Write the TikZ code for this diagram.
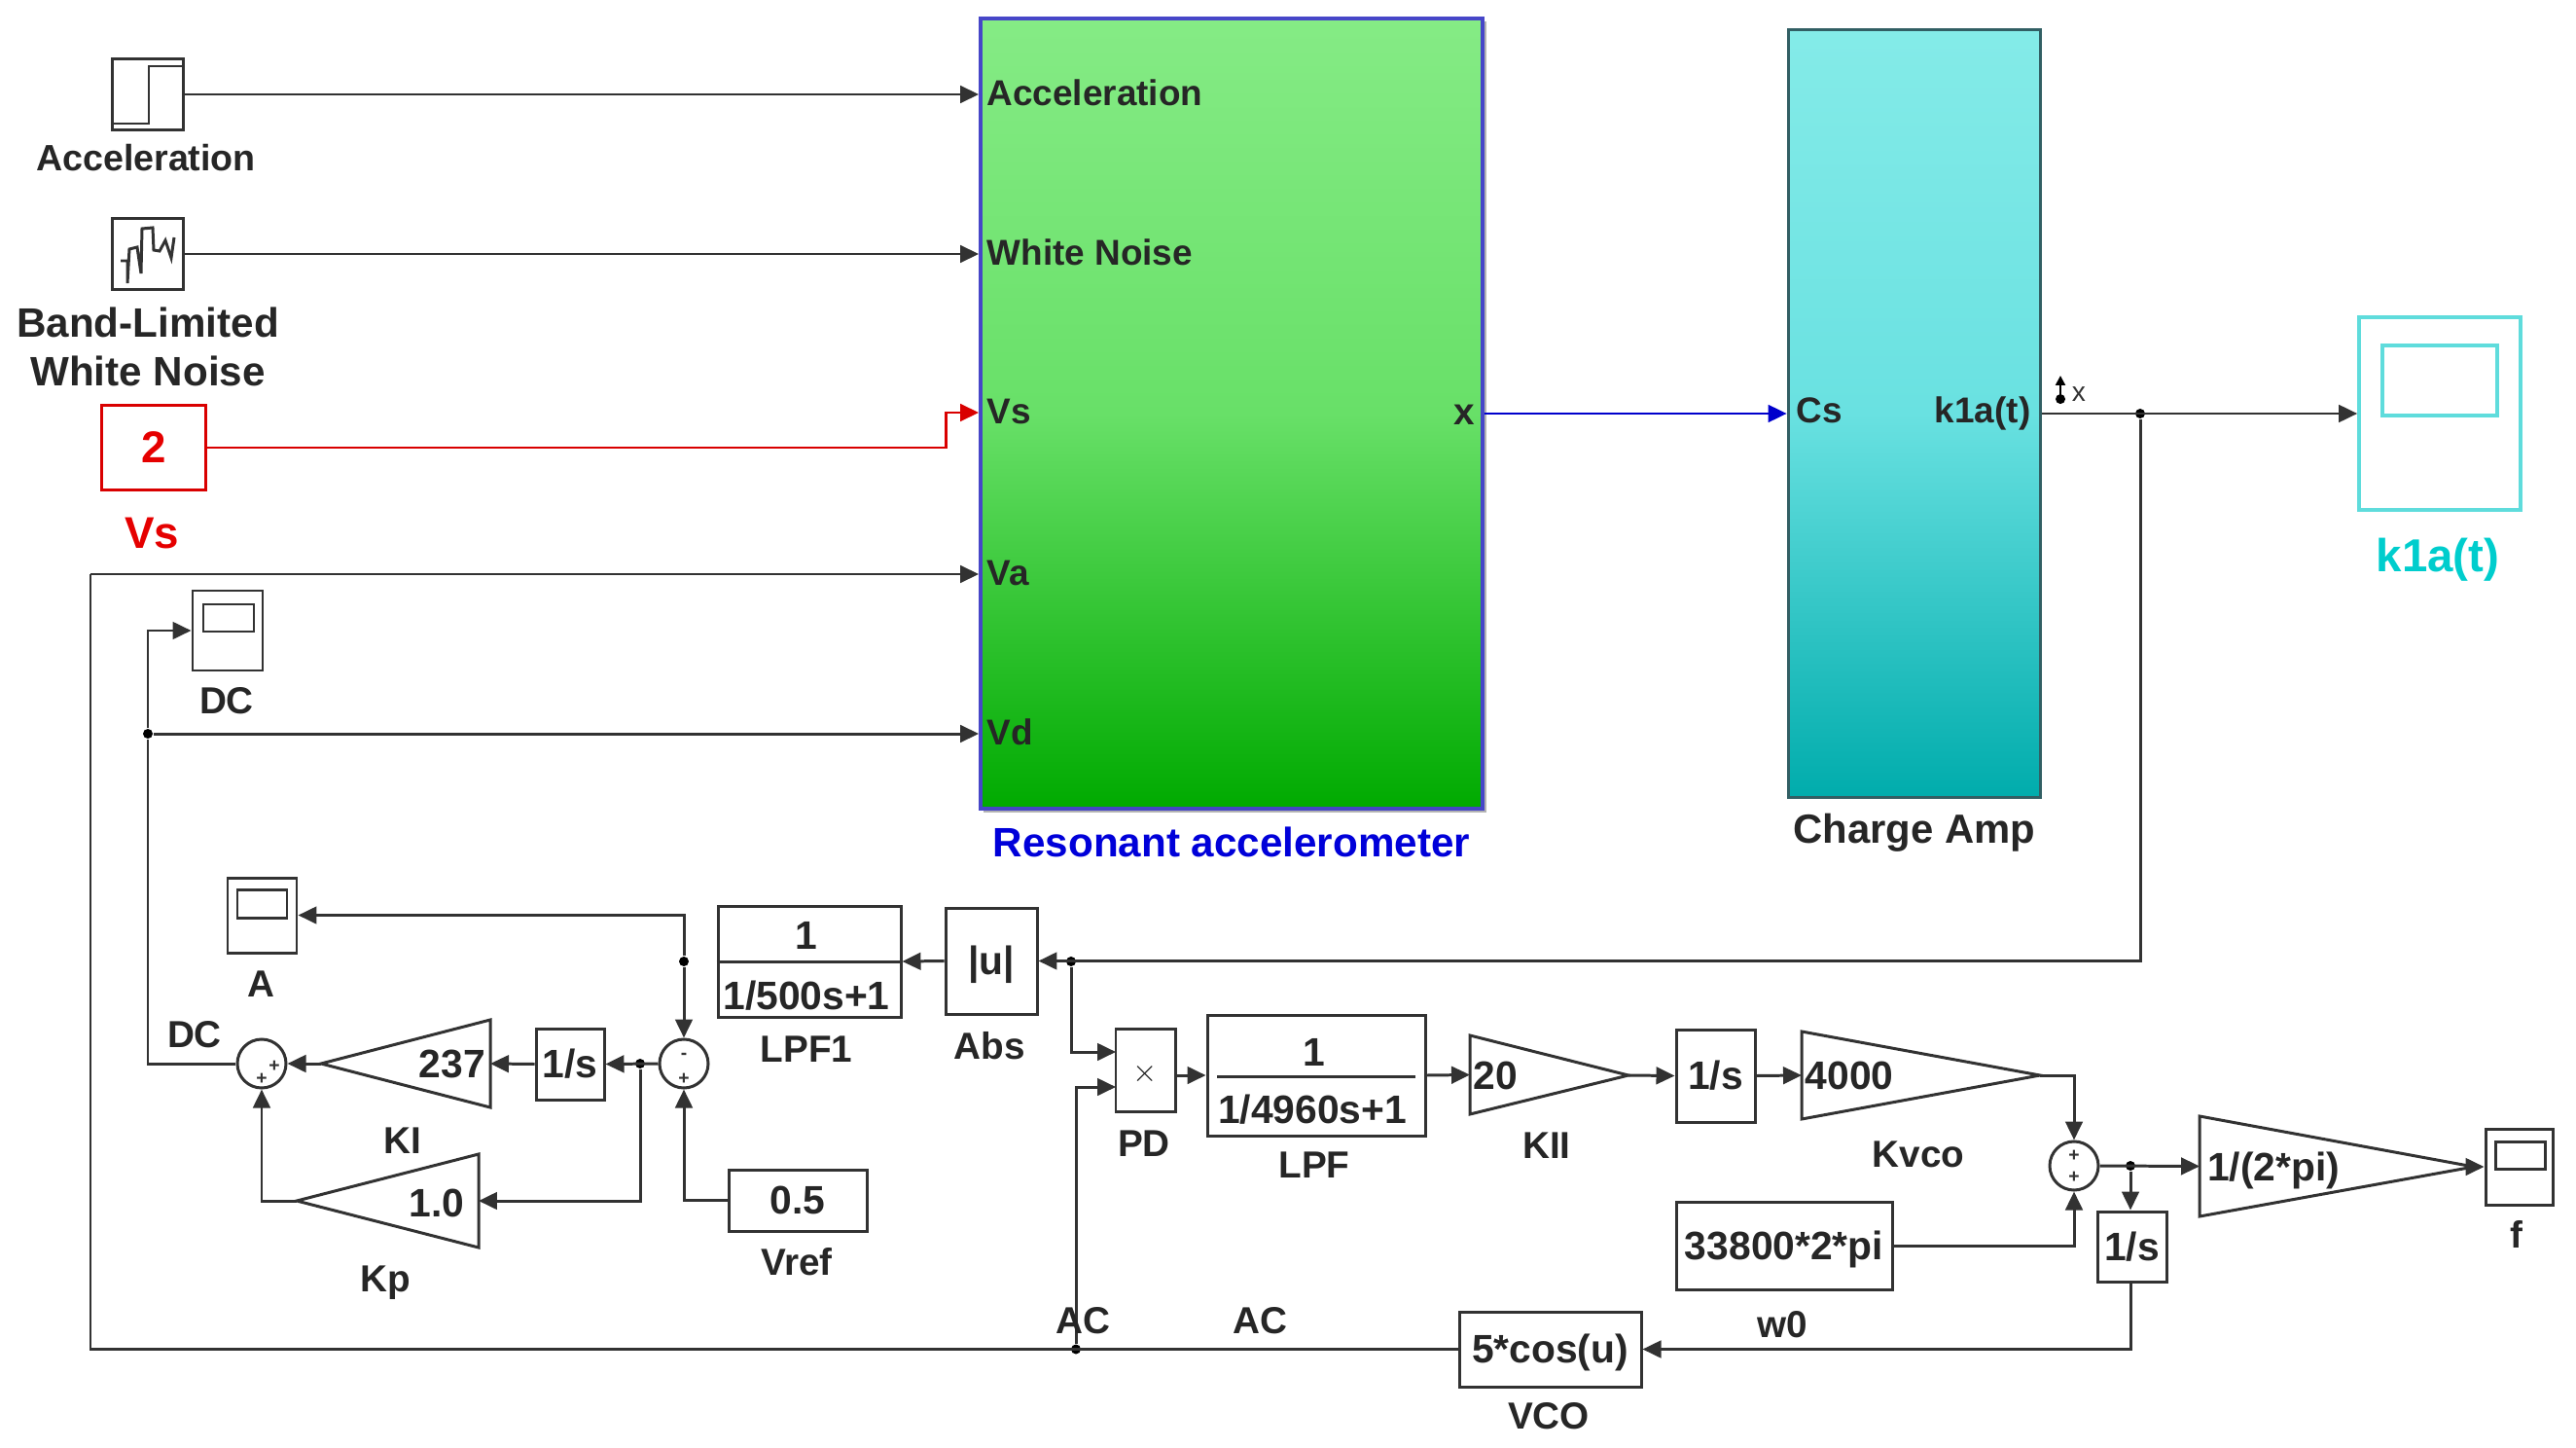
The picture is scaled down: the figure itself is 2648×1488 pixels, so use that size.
\documentclass[tikz,border=0pt]{standalone}
\usepackage{fontspec}
\setmainfont{Liberation Sans}
\usetikzlibrary{positioning, arrows.meta, shadows}

\definecolor{sigline}{RGB}{50,50,50}
\definecolor{scopecyan}{RGB}{95,220,220}
\definecolor{labelcyan}{RGB}{0,205,205}
\definecolor{greenedge}{RGB}{70,70,200}
\definecolor{chargeedge}{RGB}{50,95,100}

\tikzset{
    blockline/.style={draw=sigline, line width=0.85pt},
    blockbox/.style={blockline, rectangle, inner sep=0pt, fill=white, font=\fontsize{11.6}{13}\bfseries, text=black!85, text height=1.77ex, text depth=.23ex},
    scopebox/.style={blockline, rectangle, inner sep=0pt},
    sig/.style={draw=sigline, line width=0.85pt, -{Triangle[length=5.4pt,width=5pt]}},
    wire/.style={draw=sigline, line width=0.85pt},
    jdot/.style={circle, fill=black, inner sep=0pt, minimum size=0.1cm},
    sumnode/.style={blockline, circle, fill=white, inner sep=0pt, minimum size=0.5cm},
    signtext/.style={font=\fontsize{5.5}{6}\bfseries, inner sep=0pt, text=black!80},
    lbl/.style={font=\fontsize{11}{13}\bfseries, inner sep=0pt, text=black!85},
    portlbl/.style={lbl, font=\fontsize{10.5}{13}\bfseries, anchor=west, text height=1.6ex, text depth=.4ex},
}

\begin{document}
\begin{tikzpicture}[x=0.01cm, y=-0.01cm]
        \useasboundingbox (0,0) rectangle (2648,1488);

        % draw big subsystems
        \node[draw=greenedge, line width=1pt, inner sep=0pt, minimum width=5.16cm, minimum height=8.12cm,
        top color={rgb,255:red,133;green,235;blue,133}, bottom color={rgb,255:red,0;green,170;blue,0}, middle color={rgb,255:red,104;green,224;blue,104},
        drop shadow={shadow xshift=1pt, shadow yshift=-1pt, opacity=.6}] (green) at (1266,425) {};
        \node[draw=chargeedge, line width=1pt, inner sep=0pt, minimum width=2.59cm, minimum height=7.89cm,
        top color={rgb,255:red,132;green,235;blue,232}, bottom color={rgb,255:red,0;green,172;blue,172}, middle color={rgb,255:red,105;green,225;blue,225}] (charge) at (1968,425) {};

        % port texts
        \foreach \name/\y/\descr in {acc/97/Acceleration, wn/261/White Noise, vs/424/Vs, va/590/Va, vd/754/Vd}
        \node[portlbl] (p\name) at (1014,\y) {\descr};
        \node[lbl, text height=1.6ex, text depth=.4ex] (px) at (1505,425) {x};
        \node[portlbl] (pcs) at (1846,423) {Cs};
        \node[portlbl, anchor=east] (pk) at (2088,423) {k1a(t)};

        % sources
        \node[scopebox, minimum width=0.72cm, minimum height=0.73cm] (stepsrc) at (152,97) {};
        \draw[blockline] (116,127) -- (153,127) -- (153,68) -- (187,68);
        \node[scopebox, minimum width=0.72cm, minimum height=0.72cm] (noisesrc) at (152,261) {};
        \draw[blockline] (124,268) -- (131,268) -- (131,291) -- (133,256) -- (141,254) -- (145,281) -- (146,235) -- (157,234) -- (158,257) -- (164,258) -- (170,247) -- (176,265) -- (179,244);
        \node[draw=red!85!black, line width=0.85pt, inner sep=0pt, minimum width=1.06cm, minimum height=0.86cm, text=red!90!black, font=\fontsize{13}{15}\bfseries] (vsconst) at (158,460) {2};

        % draw plain blocks
        \foreach \name/\x/\y/\w/\h/\descr in {abs/1019/987.5/94/109/{|u|}, vref/820/1233.5/142/63/{0.5}, intA/586/1093.5/70/73/{1/s}, intB/1763.5/1105.5/81/95/{1/s}, intC/2191.5/1281/71/72/{1/s}, wzero/1834/1280/222/90/{33800*2*pi}, vco/1593.5/1386.5/187/77/{5*cos(u)}, lpfA/832/988/188/114/{}, lpfB/1353/1105/224/124/{}}
        \node[blockbox, minimum width=\w*0.01cm, minimum height=\h*0.01cm] (\name) at (\x,\y) {\descr};
        \node[blockbox, minimum width=0.61cm, minimum height=0.84cm, font=\fontsize{9}{10}\selectfont, text height=1.6ex, text depth=.4ex] (pd) at (1177.5,1100) {$\times$};

        % transfer function texts
        \node[blockbox, draw=none, fill=none] (lpfAnum) at (829,961) {1};
        \node[blockbox, draw=none, fill=none] (lpfAden) at (829,1023) {1/500s+1};
        \node[blockbox, draw=none, fill=none] (lpfBnum) at (1351,1081) {1};
        \node[blockbox, draw=none, fill=none] (lpfBden) at (1349,1140) {1/4960s+1};
        \draw[wire] (lpfA.west) -- (lpfA.east);
        \draw[wire] (1251,1106) -- (1455,1106);

        % draw gains
        \foreach \name/\xb/\ya/\yb/\xt/\yt in {gainI/504/1048/1138/330/1093, gainP/492/1186/1282/305/1234, gainII/1511/1064/1145/1674/1105, gainV/1852/1060/1150/2097/1105, gainF/2261/1147/1250/2543/1199}
        {
            \draw[blockline, fill=white] (\xb,\ya) -- (\xt,\yt) -- (\xb,\yb) -- cycle;
            \coordinate (\name tip) at (\xt,\yt);
            \coordinate (\name base) at (\xb,{(\ya+\yb)/2});
        }
        \foreach \name/\x/\y/\descr in {gainItext/465/1093/237, gainPtext/449/1236/1.0, gainIItext/1537/1105/20, gainVtext/1901/1105/4000, gainFtext/2337/1199/{1/(2*pi)}}
        \node[blockbox, draw=none, fill=none] (\name) at (\x,\y) {\descr};

        % draw scopes
        \foreach \name/\xa/\ya/\xb/\yb/\sa/\sb/\sc/\sd in {dcscope/198/607/270/689/209/621/261/649, ascope/234/902/305/979/244/914/295/943, fscope/2555/1160/2624/1238/2565/1173/2616/1201}
        {
            \node[scopebox, minimum width=(\xb-\xa)*0.01cm, minimum height=(\yb-\ya)*0.01cm] (\name) at ({(\xa+\xb)/2},{(\ya+\yb)/2}) {};
            \draw[blockline] (\sa,\sb) rectangle (\sc,\sd);
        }
        \node[draw=scopecyan, line width=1pt, inner sep=0pt, minimum width=1.66cm, minimum height=1.98cm] (kscope) at (2508,425) {};
        \draw[draw=scopecyan, line width=1pt] (2449,355) rectangle (2567,427);

        % draw sums
        \node[sumnode] (sumA) at (703,1093) {};
        \node[sumnode] (sumB) at (269,1093) {};
        \node[sumnode] (sumC) at (2132,1198) {};
        \foreach \name/\x/\y/\descr in {sa/703/1085/-, sb/703/1109/+, sc/282/1096/+, sd/269/1109/+, se/2132/1188/+, sf/2132/1210/+}
        \node[signtext] (\name) at (\x,\y) {\descr};

        % junctions and free ends
        \node[jdot] (jtop) at (2200,425) {};
        \node[jdot] (jabs) at (1101,988) {};
        \node[jdot] (jbot) at (1106,1386.5) {};
        \node[jdot] (jlpf) at (703,988) {};
        \node[jdot] (jint) at (658,1093) {};
        \node[jdot] (jdc) at (152,754) {};
        \node[jdot] (jf) at (2190,1198) {};
        \coordinate (vsbend) at (972,424);
        \coordinate (vaturn) at (93,590);
        \coordinate (pdup) at (1147,1081);
        \coordinate (pdlow) at (1147,1117);

        % draw top signals
        \draw[sig] (stepsrc.east) -- (green.west |- stepsrc.east);
        \draw[sig] (noisesrc.east) -- (green.west |- noisesrc.east);
        \draw[sig, draw=red!85!black, -{Triangle[length=5.4pt,width=5pt,fill=red!85!black]}, color=red!85!black] (vsconst.east) -| (vsbend) -- (green.west |- vsbend);
        \draw[sig, draw=blue!80!black, color=blue!80!black] (green.east) -- (charge.west);
        \draw[sig] (charge.east) -- (kscope.west);
        \draw[sig] (jdc) -- (green.west |- jdc);
        \draw[sig] (jdc) |- (dcscope.west);
        \draw[wire] (vco.west) -| (vaturn);
        \draw[sig] (vaturn) -- (green.west |- vaturn);

        % draw left loop
        \draw[sig] (jtop) |- (abs.east);
        \draw[sig] (abs.west) -- (lpfA.east);
        \draw[sig] (jlpf) -- (sumA.north);
        \draw[sig] (jlpf) |- (ascope.east);
        \draw[sig] (sumA.west) -- (intA.east);
        \draw[sig] (intA.west) -- (gainIbase);
        \draw[sig] (gainItip) -- (sumB.east);
        \draw[sig] (jint) |- (gainPbase);
        \draw[sig] (gainPtip) -| (sumB.south);
        \draw[wire] (sumB.west) -| (jdc);
        \draw[sig] (vref.west) -| (sumA.south);

        % draw right loop
        \draw[sig] (jabs) |- (pdup);
        \draw[sig] (jbot) |- (pdlow);
        \draw[sig] (pd.east |- lpfB.west) -- (lpfB.west);
        \draw[sig] (lpfB.east) -- (gainIIbase);
        \draw[sig] (gainIItip) -- (intB.west);
        \draw[sig] (intB.east) -- (gainVbase);
        \draw[sig] (gainVtip) -| (sumC.north);
        \draw[sig] (wzero.east) -| (sumC.south);
        \draw[sig] (sumC.east) -- (gainFbase);
        \draw[sig] (gainFtip) -- (fscope.west);
        \draw[sig] (jf) -- (jf |- intC.north);
        \draw[sig] (jf |- intC.south) |- (vco.east);

        % size marker
        \draw[line width=0.6pt, {Triangle[length=2.8pt,width=2.8pt]}-{Circle[length=2.8pt]}] (2118,386) -- (2118,415);
        \node[font=\fontsize{8}{9}\selectfont, inner sep=0pt, text=black!80] (sizex) at (2137,405) {x};

        % block names
        \foreach \name/\x/\y/\descr in {ldc/233/720/DC, la/268/1011/A, ldcb/200/1063/DC, lki/414/1172/KI, lkp/396/1318/Kp, lvref/819/1297/Vref, llpfa/829/1078/LPF1, labs/1017/1075/Abs, lpd/1176/1175/PD, llpfb/1351/1197/LPF, lkii/1590/1177/KII, lkvco/1972/1186/Kvco, lw/1832/1361/w0, lf/2587/1268/f, lvco/1592/1455/VCO, lac/1113/1357/AC, lacb/1295/1357/AC}
        \node[lbl] (\name) at (\x,\y) {\descr};
        \node[lbl, font=\fontsize{10.7}{13}\bfseries] (lacc) at (150,162) {Acceleration};
        \node[lbl, font=\fontsize{12}{14}\bfseries] (lband) at (152,331) {Band-Limited};
        \node[lbl, font=\fontsize{12}{14}\bfseries] (lwhite) at (152,381) {White Noise};
        \node[lbl, font=\fontsize{11.9}{14}\bfseries] (lamp) at (1968,856) {Charge Amp};
        \node[lbl, text=red!90!black, font=\fontsize{13}{15}\bfseries] (lvs) at (156,548) {Vs};
        \node[lbl, text=blue!85!black, font=\fontsize{12}{14}\bfseries] (lres) at (1266,865) {Resonant accelerometer};
        \node[lbl, text=labelcyan, font=\fontsize{13.5}{15}\bfseries] (lkone) at (2506,575) {k1a(t)};
    \end{tikzpicture}
\end{document}
